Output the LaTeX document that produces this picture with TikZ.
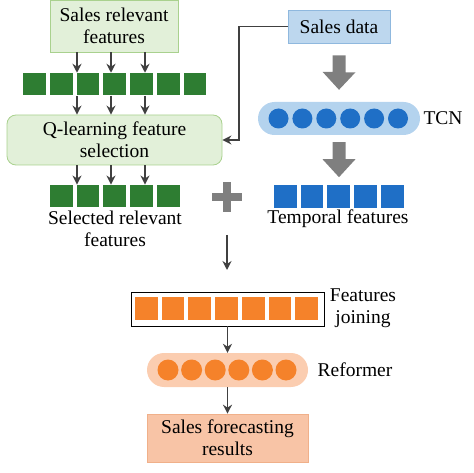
\documentclass[tikz,border=0pt]{standalone}
\usepackage{fontspec}
\setmainfont{Liberation Serif}
\usetikzlibrary{arrows.meta,calc}
\definecolor{dgreen}{HTML}{2E7D32}
\definecolor{lgreen}{HTML}{E2F0D9}
\definecolor{bgreen}{HTML}{A9D18E}
\definecolor{dblue}{HTML}{1F6FC6}
\definecolor{lblue}{HTML}{B4D3EE}
\definecolor{sdblue}{HTML}{BDD7EE}
\definecolor{bblue}{HTML}{8FB8DE}
\definecolor{dorange}{HTML}{F5822A}
\definecolor{lorange}{HTML}{FBCDB0}
\definecolor{rorange}{HTML}{F8C4A6}
\definecolor{borange}{HTML}{F0B08A}
\definecolor{arrgray}{HTML}{404040}
\definecolor{biggray}{HTML}{7F7F7F}
\begin{document}
\begin{tikzpicture}[x=1pt,y=-1pt,
  txt/.style={font=\fontsize{19.5}{22}\selectfont, align=center, inner sep=0pt, text=black},
  sq/.style={minimum width=22.7pt, minimum height=22.5pt, inner sep=0pt, draw=none},
  gsq/.style={sq, fill=dgreen},
  bsq/.style={sq, fill=dblue},
  osq/.style={sq, fill=dorange},
  bcirc/.style={circle, minimum size=20pt, inner sep=0pt, fill=dblue},
  ocirc/.style={circle, minimum size=21pt, inner sep=0pt, fill=dorange},
  conn/.style={draw=arrgray, line width=1.3pt, -{Stealth[length=9pt,width=9pt]}},
  fat/.style={fill=biggray, draw=none}
]
\useasboundingbox (0,0) rectangle (474,473);

% Sales relevant features box
\node[txt, draw=bgreen, fill=lgreen, line width=0.6pt, minimum width=128pt, minimum height=52pt] (srf) at (114,26) {Sales relevant\\features};

% green row 1
\foreach \i in {1,...,7}{
  \node[gsq] (ga\i) at ({50-26.7+11.35+26.7*(\i-1)},84.2) {};
}
% Q-learning box
\node[txt, draw=bgreen, fill=lgreen, line width=0.8pt, rounded corners=9pt, minimum width=215pt, minimum height=50pt] (ql) at (114.5,140) {Q-learning feature\\selection};

% green row 2
\foreach \i in {1,...,5}{
  \node[gsq] (gb\i) at ({50+11.35+26.7*(\i-1)},196) {};
}
\node[txt] (sel) at (115,229) {Selected relevant\\features};

% arrow x positions
\coordinate (ax1) at (77,0);
\coordinate (ax2) at (111,0);
\coordinate (ax3) at (145,0);
\foreach \a in {ax1,ax2,ax3}{
  \draw[conn] (srf.south -| \a) -- (ga1.north -| \a);
  \draw[conn] (ga1.south -| \a) -- (ql.north -| \a);
  \draw[conn] (ql.south -| \a) -- (gb1.north -| \a);
}

% Sales data
\node[txt, draw=bblue, fill=sdblue, line width=0.6pt, minimum width=102pt, minimum height=33pt] (sd) at (339,26.5) {Sales data};
\coordinate (bend) at (239,0);
\draw[conn] (sd.west) -- (sd.west -| bend) -- (ql.east -| bend) -- (ql.east);

% TCN pill
\node[draw=none, fill=lblue, rounded corners=16.5pt, minimum width=162pt, minimum height=33pt, inner sep=0pt] (tcn) at (339,118.5) {};
\foreach \i in {1,...,6}{
  \node[bcirc] (tc\i) at ({278.5+23.9*(\i-1)},118.5) {};
}
\node[txt] (tcnl) at (443,118) {TCN};

% fat arrows
\path[fat] ($(sd.south)+(-6.5,12)$) -- ++(13,0) -- ++(0,17) -- ++(10,0) -- ($(tcn.north)+(0,-12)$) -- ++(-16.5,-18) -- ++(10,0) -- cycle;
\path[fat] ($(tcn.south)+(-6.5,7)$) -- ++(13,0) -- ++(0,17) -- ++(10,0) -- ($(tcn.south)+(0,42)$) -- ++(-16.5,-18) -- ++(10,0) -- cycle;

% blue squares
\foreach \i in {1,...,5}{
  \node[bsq] (bs\i) at ({274+11.35+26.7*(\i-1)},196.5) {};
}
\node[txt] (temp) at (338,219) {Temporal features};

% plus
\fill[biggray] (212,193) rectangle (242,201);
\fill[biggray] (223,182) rectangle (231,212);

% Features joining
\node[draw=black, line width=0.9pt, fill=white, minimum width=193pt, minimum height=34pt, inner sep=0pt] (fj) at (227.5,309) {};
\foreach \i in {1,...,7}{
  \node[osq] (os\i) at ({135+11.35+26.7*(\i-1)},308.5) {};
}
\node[txt] (fjl) at (363,308) {Features\\joining};

\coordinate (pstart) at (227,235);
\coordinate (pend) at (227,270);
\draw[conn] (pstart) -- (pend);

% Reformer pill
\node[draw=none, fill=lorange, rounded corners=17pt, minimum width=161pt, minimum height=34pt, inner sep=0pt] (ref) at (227.5,370) {};
\foreach \i in {1,...,6}{
  \node[ocirc] (oc\i) at ({168+23.6*(\i-1)},370) {};
}
\node[txt] (refl) at (355,370) {Reformer};

% result box
\node[txt, draw=borange, fill=rorange, line width=0.6pt, minimum width=161pt, minimum height=48pt] (res) at (227.5,438) {Sales forecasting\\results};

\draw[conn] (fj.south -| ref.north) -- (ref.north);
\draw[conn] (ref.south) -- (res.north);
\end{tikzpicture}
\end{document}
